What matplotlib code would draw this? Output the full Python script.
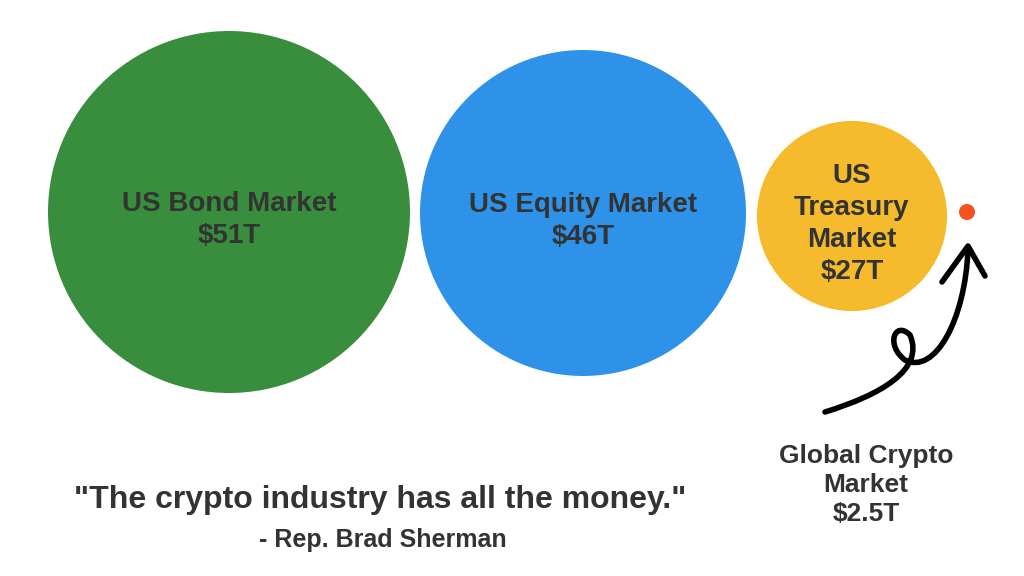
import matplotlib
matplotlib.use("Agg")
import matplotlib.pyplot as plt
from matplotlib.patches import Circle
from matplotlib.path import Path
from matplotlib.patches import PathPatch

# markets, sizes (radius in pixels)
labels = ["US Bond Market\n$51T", "US Equity Market\n$46T", "US\nTreasury\nMarket\n$27T", ""]
values = [51, 46, 27, 2.5]
radii = [181, 163, 95, 8]
centers_x = [229, 583, 852, 967]
centers_y = [212, 213, 216, 212]
colors = ["#388e3c", "#2e93e8", "#f6bb2c", "#f4511e"]

fig = plt.figure(figsize=(10.24, 5.76), dpi=100)
ax = fig.add_axes([0, 0, 1, 1])
ax.set_xlim(0, 1024)
ax.set_ylim(576, 0)
ax.set_aspect("equal")
ax.axis("off")

font = dict(family="Liberation Sans", weight="bold", color="#333333")

for lab, r, cx, cy, c in zip(labels, radii, centers_x, centers_y, colors):
    ax.add_patch(Circle((cx, cy), r, color=c, lw=0))
    if lab:
        ax.text(cx, cy + 8, lab, ha="center", va="center", fontsize=20,
                linespacing=1.3, **font)

# hand drawn arrow towards the crypto dot
verts = [(825, 412), (880, 395), (925, 370), (910, 335),
         (895, 320), (885, 345), (905, 360),
         (935, 375), (965, 320), (968, 250)]
codes = [Path.MOVETO, Path.CURVE4, Path.CURVE4, Path.CURVE4,
         Path.CURVE4, Path.CURVE4, Path.CURVE4,
         Path.CURVE4, Path.CURVE4, Path.CURVE4]
ax.add_patch(PathPatch(Path(verts, codes), fill=False, lw=4, color="black",
                       capstyle="round"))
ax.plot([942, 968, 985], [282, 246, 276], color="black", lw=4,
        solid_capstyle="round", solid_joinstyle="round")

ax.text(866, 485, "Global Crypto\nMarket\n$2.5T", ha="center", va="center",
        fontsize=19, linespacing=1.25, **font)
ax.text(380, 500, '"The crypto industry has all the money."', ha="center",
        va="center", fontsize=23, **font)
ax.text(383, 540, "- Rep. Brad Sherman", ha="center", va="center",
        fontsize=18, **font)

fig.savefig("out.png", dpi=100)
